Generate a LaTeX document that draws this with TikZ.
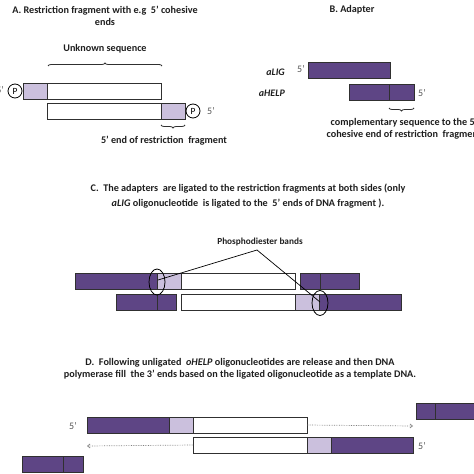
\documentclass[tikz,border=0pt]{standalone}
\usepackage{fontspec}
\setmainfont{Carlito}
\usetikzlibrary{decorations.pathreplacing,arrows.meta,shapes.geometric}
\definecolor{dkp}{HTML}{5E4585}
\definecolor{ltp}{HTML}{CBC0DD}
\definecolor{edge}{HTML}{303030}
\definecolor{txt}{HTML}{1E1E1E}
\definecolor{lbl}{HTML}{555555}
\tikzset{
  seg/.style={draw=edge, line width=0.8bp, rectangle, inner sep=0pt, outer sep=0pt, minimum height=16bp},
  dk/.style={seg, fill=dkp},
  lt/.style={seg, fill=ltp},
  wt/.style={seg, fill=white},
  ttl/.style={font=\bfseries\fontsize{10.2}{12.7}\selectfont, text=txt, align=center, inner sep=0pt},
  bl/.style={font=\bfseries\fontsize{10.2}{12.7}\selectfont, text=txt, inner sep=0pt},
  lbl/.style={font=\fontsize{10}{11}\selectfont, text=lbl, inner sep=0pt},
  phos/.style={circle, draw=black, line width=0.8bp, fill=white, minimum size=14bp, inner sep=0pt, font=\fontsize{9.5}{10}\selectfont},
  brc/.style={decorate, decoration={brace, amplitude=3bp}, draw=edge, line width=0.8bp},
  brcm/.style={decorate, decoration={brace, amplitude=3bp, mirror}, draw=edge, line width=0.8bp},
  ring/.style={draw=black, line width=0.8bp, ellipse, inner sep=0pt},
  ptr/.style={draw=black, line width=0.7bp},
  dots/.style={draw=gray, line width=0.7bp, densely dotted, -{Straight Barb[length=2.5bp,width=4bp]}}
}
\begin{document}
\begin{tikzpicture}[x=1bp,y=-1bp]
\useasboundingbox (0,0) rectangle (474,474);
% ---------- A ----------
\node[ttl] (tA) at (105,15.8) {A. Restriction fragment with e.g\ \ 5’ cohesive\\ends};
\node[bl] (unk) at (105,49) {Unknown sequence};
\node[lt, minimum width=24bp] (a1l) at (35,91) {};
\node[wt, minimum width=114bp] (a1w) at (104,91) {};
\node[phos] (p1) at (15,91) {P};
\node[lbl, anchor=east] (a5l) at (4,90) {5’};
\node[wt, minimum width=114bp] (a2w) at (104,111) {};
\node[lt, minimum width=24bp] (a2l) at (173,111) {};
\node[phos] (p2) at (193,111) {P};
\node[lbl] (a5r) at (211,111) {5’};
\coordinate (bA1) at (48,66);
\coordinate (bA2) at (162,66);
\draw[brc] (bA1) -- (bA2);
\coordinate (bA3) at (161,125);
\coordinate (bA4) at (185,125);
\draw[brcm] (bA3) -- (bA4);
\node[bl] (endt) at (164,141) {5’ end of restriction\ \ fragment};
% ---------- B ----------
\node[ttl] (tB) at (352,9.3) {B. Adapter};
\node[dk, minimum width=82bp] (lig) at (349,70) {};
\node[lbl] (lig5) at (301,69) {5’};
\node[bl, font=\bfseries\itshape\fontsize{10}{10}\selectfont, anchor=east] (ligl) at (285,72) {aLIG};
\node[dk, minimum width=40bp] (help1) at (369,92) {};
\node[dk, minimum width=25bp] (help2) at (401.5,92) {};
\node[bl, font=\bfseries\itshape\fontsize{10}{10}\selectfont, anchor=east] (helpl) at (285,93) {aHELP};
\node[lbl] (help5) at (422,93) {5’};
\coordinate (bB1) at (389,108);
\coordinate (bB2) at (414,108);
\draw[brcm] (bB1) -- (bB2);
\node[ttl] (compl) at (404,128.5) {complementary sequence to the 5’\\cohesive end of restriction\ \ fragment};
% ---------- C ----------
\node[ttl, font=\bfseries\fontsize{10.2}{15}\selectfont] (tC) at (248,195.8) {C.\ \ The adapters\ \ are ligated to the restriction fragments at both sides (only\\\textit{aLIG} oligonucleotide\ \ is ligated to the\ \ 5’ ends of DNA fragment ).};
\node[bl, font=\bfseries\fontsize{9.3}{10}\selectfont] (phost) at (260,242) {Phosphodiester bands};
\node[dk, minimum width=82bp] (c1d) at (116,281.5) {};
\node[lt, minimum width=24bp] (c1l) at (169,281.5) {};
\node[wt, minimum width=114bp] (c1w) at (238,281.5) {};
\node[dk, minimum width=20bp] (c1a) at (310,281.5) {};
\node[dk, minimum width=39bp] (c1b) at (339.5,281.5) {};
\node[dk, minimum width=41bp] (c2a) at (136.5,302.5) {};
\node[dk, minimum width=19bp] (c2b) at (166.5,302.5) {};
\node[wt, minimum width=114bp] (c2w) at (238,302.5) {};
\node[lt, minimum width=24bp] (c2l) at (307,302.5) {};
\node[dk, minimum width=82bp] (c2d) at (360,302.5) {};
\node[ring, minimum width=16bp, minimum height=26bp] (e1) at (157,282) {};
\node[ring, minimum width=16bp, minimum height=25bp] (e2) at (320,303) {};
\coordinate (pb) at (257,250);
\coordinate (pe1) at (158,280);
\coordinate (pe2) at (320,302);
\draw[ptr] (pb) -- (pe1);
\draw[ptr] (pb) -- (pe2);
% ---------- D ----------
\node[ttl, font=\bfseries\fontsize{10.2}{11.8}\selectfont] (tD) at (240,369) {D.\ \ Following unligated\ \ \textit{oHELP} oligonucleotides are release and then DNA\\polymerase fill\ \ the 3’ ends based on the ligated oligonucleotide as a template DNA.};
\node[dk, minimum width=82bp] (d1d) at (128,425) {};
\node[lt, minimum width=24bp] (d1l) at (181,425) {};
\node[wt, minimum width=114bp] (d1w) at (250,425) {};
\node[lbl] (d5l) at (73,426) {5’};
\coordinate (d1e) at (413,426);
\draw[dots] (d1w.east) -- (d1e);
\node[dk, minimum width=19bp] (dra) at (425.5,411) {};
\node[dk, minimum width=41bp] (drb) at (455.5,411) {};
\node[wt, minimum width=114bp] (d2w) at (250,445) {};
\node[lt, minimum width=24bp] (d2l) at (319,445) {};
\node[dk, minimum width=82bp] (d2d) at (372,445) {};
\node[lbl] (d5r) at (422,446) {5’};
\coordinate (d2e) at (87,446);
\draw[dots] (d2w.west) -- (d2e);
\node[dk, minimum width=41bp] (dla) at (42.5,464) {};
\node[dk, minimum width=20bp] (dlb) at (73,464) {};
\end{tikzpicture}
\end{document}
